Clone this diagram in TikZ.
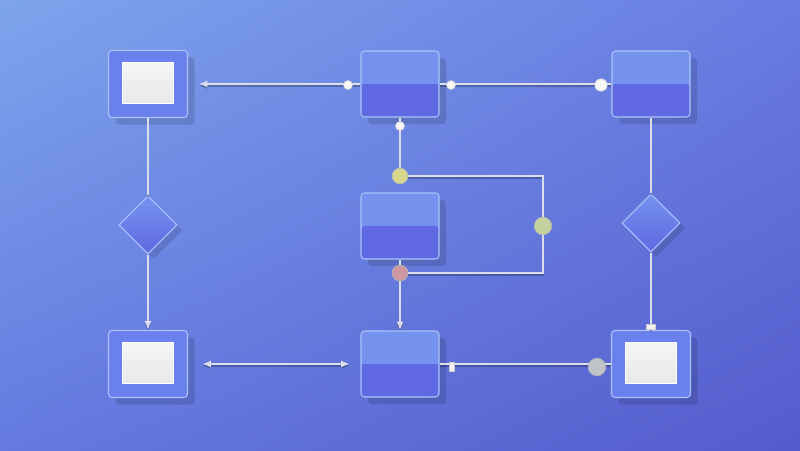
\documentclass[tikz,border=0pt]{standalone}
\usetikzlibrary{shapes.geometric,shadows,shadings,arrows.meta}

\definecolor{bgul}{RGB}{126,164,236}
\definecolor{bgur}{RGB}{104,124,226}
\definecolor{bgll}{RGB}{100,122,224}
\definecolor{bglr}{RGB}{84,92,204}
\definecolor{boxhi}{RGB}{116,146,238}
\definecolor{boxlo}{RGB}{96,104,226}
\definecolor{boxrim}{RGB}{170,195,250}
\definecolor{panelfill}{RGB}{106,128,236}
\definecolor{wirecol}{RGB}{218,222,234}
\definecolor{dotyel}{RGB}{214,214,140}
\definecolor{dotgrn}{RGB}{196,210,160}
\definecolor{dotpnk}{RGB}{206,150,160}
\definecolor{dotgry}{RGB}{190,196,200}

\tikzset{
  box/.style={draw=boxrim, line width=0.6pt, rounded corners=2pt, fill=boxhi,
    minimum width=1.56cm, minimum height=1.32cm, inner sep=0pt,
    drop shadow={shadow xshift=4pt, shadow yshift=-4pt, fill=black, opacity=0.13},
    path picture={\fill[boxlo] (path picture bounding box.west) rectangle (path picture bounding box.south east);}},
  panel/.style={draw=boxrim, line width=0.6pt, rounded corners=2pt, fill=panelfill,
    minimum width=1.58cm, minimum height=1.34cm, inner sep=0pt,
    drop shadow={shadow xshift=4pt, shadow yshift=-4pt, fill=black, opacity=0.13}},
  card/.style={draw=white, line width=0.8pt, top color=white!92!gray, bottom color=white!82!gray,
    minimum width=1.02cm, minimum height=0.82cm, inner sep=0pt},
  choice/.style={diamond, draw=boxrim, line width=0.6pt, top color=boxhi, bottom color=boxlo,
    minimum width=1.16cm, minimum height=1.16cm, inner sep=0pt,
    drop shadow={shadow xshift=3pt, shadow yshift=-3pt, fill=black, opacity=0.12}},
  wire/.style={draw=wirecol, line width=1.4pt,
    preaction={draw=black, opacity=0.25, line width=1.4pt, transform canvas={yshift=-0.9pt}}},
  dot/.style={circle, draw=white!70!gray, line width=0.4pt, fill=white!94!gray, inner sep=0pt, minimum size=5pt},
  bigdot/.style={circle, draw=black!30, line width=0.4pt, inner sep=0pt, minimum size=9pt},
  tab/.style={draw=white!60!gray, fill=white!90!gray, inner sep=0pt, minimum width=2.5pt, minimum height=5pt}
}

\begin{document}
\begin{tikzpicture}[x=0.02cm, y=-0.02cm]
\shade[upper left=bgul, upper right=bgur, lower left=bgll, lower right=bglr] (0,0) rectangle (800,450);
\useasboundingbox (0,0) rectangle (800,450);

% boxes
\node (tl)[panel] at (148,84) {};
\node (tlin)[card] at (148,83) {};
\node (tm)[box] at (400,84) {};
\node (tr)[box] at (651,84) {};
\node (mid)[box] at (400,226) {};
\node (bl)[panel] at (148,364) {};
\node (blin)[card] at (148,363) {};
\node (bm)[box] at (400,364) {};
\node (br)[panel] at (651,364) {};
\node (brin)[card] at (651,363) {};
\node (dl)[choice] at (148,225) {};
\node (dr)[choice] at (651,223) {};

% corners of the loop
\coordinate (c1) at (543,176);
\coordinate (c2) at (543,273);

% wires
\draw[wire, -{Latex[length=5pt,width=4pt]}, shorten >=6pt] (tm.west) -- (tl.east);
\draw[wire] (tm.east) -- (tr.west);
\draw[wire] (tl.south) -- (dl.north);
\draw[wire, -{Latex[length=5pt,width=4pt]}] (dl.south) -- (bl.north);
\draw[wire] (tr.south) -- (dr.north);
\draw[wire] (dr.south) -- (br.north);
\draw[wire] (tm.south) -- (400,176) -- (c1) -- (c2) -- (400,273);
\draw[wire, -{Latex[length=5pt,width=4pt]}] (mid.south) -- (bm.north);
\draw[wire, {Latex[length=5pt,width=4pt]}-{Latex[length=5pt,width=4pt]}, shorten <=8pt, shorten >=6pt] (bl.east) -- (bm.west);
\draw[wire] (bm.east) -- (br.west);

% dots on the wires
\node (p1)[dot] at (348,85) {};
\node (p2)[dot] at (451,85) {};
\node (p3)[dot, minimum size=7pt] at (601,85) {};
\node (p4)[dot] at (400,126) {};
\node (y1)[bigdot, fill=dotyel] at (400,176) {};
\node (g1)[bigdot, fill=dotgrn, minimum size=10pt] at (543,226) {};
\node (k1)[bigdot, fill=dotpnk] at (400,273) {};
\node (s1)[bigdot, fill=dotgry, minimum size=10pt] at (597,367) {};
\node (t1)[tab] at (452,367) {};
\node (t2)[tab, minimum width=5pt, minimum height=2.5pt] at (651,327) {};
\end{tikzpicture}
\end{document}
